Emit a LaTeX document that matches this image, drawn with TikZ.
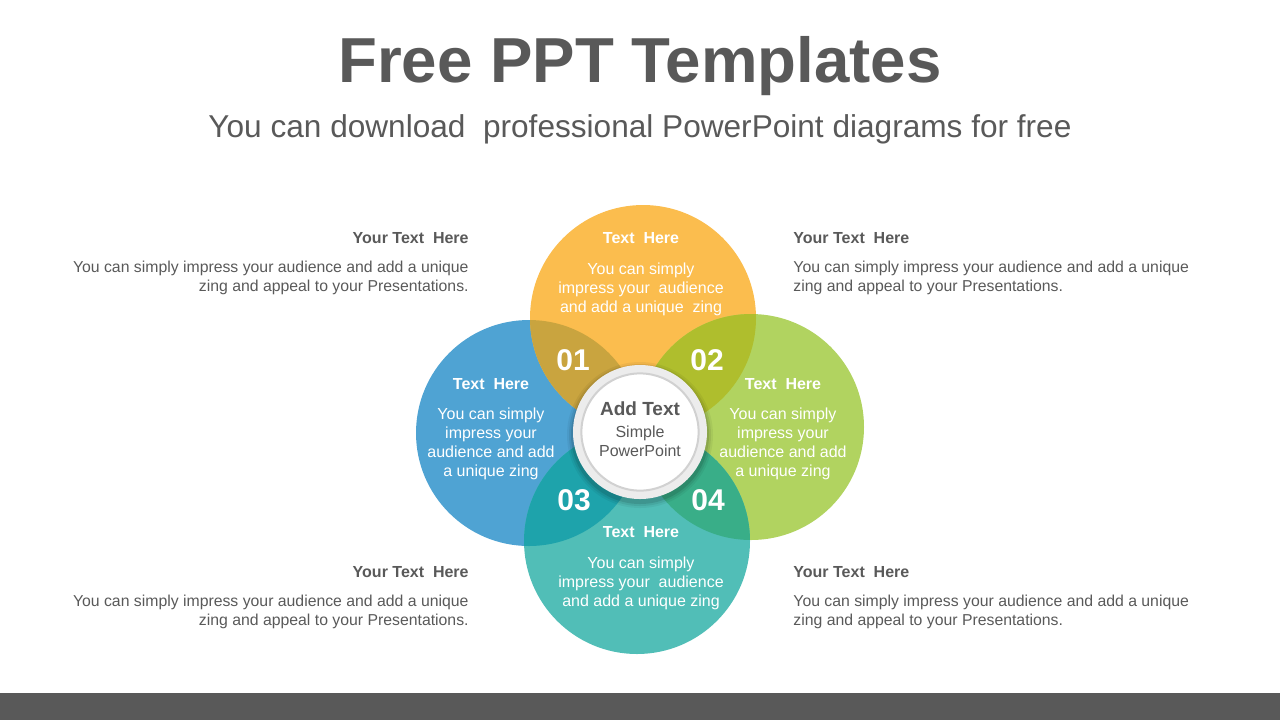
\documentclass[tikz,border=0pt]{standalone}
\usepackage{fontspec}
\setmainfont{Liberation Sans}
\usetikzlibrary{positioning, calc}

\definecolor{txtgray}{HTML}{595959}
\definecolor{petalO}{HTML}{FBBD4E}
\definecolor{petalB}{HTML}{4FA3D3}
\definecolor{petalG}{HTML}{B1D360}
\definecolor{petalT}{HTML}{51BEB7}
\definecolor{lapOB}{HTML}{C9A43F}
\definecolor{lapOG}{HTML}{AFBE2D}
\definecolor{lapBT}{HTML}{1EA3AB}
\definecolor{lapGT}{HTML}{39AE88}
\definecolor{ringgray}{HTML}{ECECEC}

\begin{document}
\begin{tikzpicture}[x=0.5pt, y=-0.5pt,
  every node/.style={inner sep=0pt},
  head/.style={font=\fontsize{31.8}{36}\selectfont\bfseries, text=txtgray},
  subhead/.style={font=\fontsize{15.8}{18}\selectfont, text=txtgray},
  sidetitle/.style={font=\fontsize{8}{9.5}\selectfont\bfseries, text=txtgray},
  sidebody/.style={font=\fontsize{7.9}{9.5}\selectfont, text=txtgray},
  intitle/.style={font=\fontsize{8}{9.5}\selectfont\bfseries, text=white, anchor=base},
  inbody/.style={font=\fontsize{8}{9.5}\selectfont, text=white, align=center, anchor=base},
  num/.style={font=\fontsize{15}{18}\selectfont\bfseries, text=white, anchor=base}]
\useasboundingbox (0,0) rectangle (1280,720);

% centres of the four petals and the hub
\coordinate (top) at (643,318);
\coordinate (lft) at (529,433);
\coordinate (rgt) at (751,427);
\coordinate (bot) at (637,541);
\coordinate (hub) at (640,432);

% heading
\node[head, anchor=base] (title) at (640,82) {Free PPT Templates};
\node[subhead, anchor=base] (subtitle) at (640,137) {You can download\ \ professional PowerPoint diagrams for free};

% petals
\fill[petalB] (lft) circle[radius=56.5pt];
\fill[petalO] (top) circle[radius=56.5pt];
\fill[petalG] (rgt) circle[radius=56.5pt];
\fill[petalT] (bot) circle[radius=56.5pt];

% overlaps
\begin{scope}
\clip (top) circle[radius=56.5pt];
\fill[lapOB] (lft) circle[radius=56.5pt];
\fill[lapOG] (rgt) circle[radius=56.5pt];
\end{scope}
\begin{scope}
\clip (bot) circle[radius=56.5pt];
\fill[lapBT] (lft) circle[radius=56.5pt];
\fill[lapGT] (rgt) circle[radius=56.5pt];
\end{scope}

% hub
\foreach \r/\o in {36.5/0.05, 35.5/0.07, 34.5/0.1}
  \fill[black, opacity=\o] ($(hub)+(0,3)$) circle[radius=\r pt];
\fill[ringgray] (hub) circle[radius=33.5pt];
\fill[white] (hub) circle[radius=29.5pt];
\draw[black!18, line width=1pt] (hub) circle[radius=29.3pt];
\node[font=\fontsize{9.5}{11}\selectfont\bfseries, text=txtgray, anchor=base] (hubtitle) at (640,415) {Add Text};
\node[font=\fontsize{8}{9.5}\selectfont, text=txtgray, align=center, anchor=base] (hubtext) at (640,456) {Simple\\PowerPoint};

% numbers
\node[num] (n1) at (573,370) {01};
\node[num] (n2) at (707,370) {02};
\node[num] (n3) at (574,510) {03};
\node[num] (n4) at (708,510) {04};

% petal texts (base = last line)
\node[intitle] (ttop) at (641,243) {Text\ \ Here};
\node[inbody] (btop) at (641,312) {You can simply\\impress your\ \ audience\\and add a unique\ \ zing};
\node[intitle] (tlft) at (491,389) {Text\ \ Here};
\node[inbody] (blft) at (491,476) {You can simply\\impress your\\audience and add\\a unique zing};
\node[intitle] (trgt) at (783,389) {Text\ \ Here};
\node[inbody] (brgt) at (783,476) {You can simply\\impress your\\audience and add\\a unique zing};
\node[intitle] (tbot) at (641,537) {Text\ \ Here};
\node[inbody] (bbot) at (641,606) {You can simply\\impress your\ \ audience\\and add a unique zing};

% side texts
\node[sidetitle, anchor=base east] (s1t) at (469,243) {Your Text\ \ Here};
\node[sidebody, anchor=base east, align=right] (s1b) at (469,291) {You can simply impress your audience and add a unique\\zing and appeal to your Presentations.};
\node[sidetitle, anchor=base west] (s2t) at (793,243) {Your Text\ \ Here};
\node[sidebody, anchor=base west, align=left] (s2b) at (793,291) {You can simply impress your audience and add a unique\\zing and appeal to your Presentations.};
\node[sidetitle, anchor=base east] (s3t) at (469,577) {Your Text\ \ Here};
\node[sidebody, anchor=base east, align=right] (s3b) at (469,625) {You can simply impress your audience and add a unique\\zing and appeal to your Presentations.};
\node[sidetitle, anchor=base west] (s4t) at (793,577) {Your Text\ \ Here};
\node[sidebody, anchor=base west, align=left] (s4b) at (793,625) {You can simply impress your audience and add a unique\\zing and appeal to your Presentations.};

% footer bar
\fill[txtgray] (0,693) rectangle (1280,720);
\end{tikzpicture}
\end{document}
